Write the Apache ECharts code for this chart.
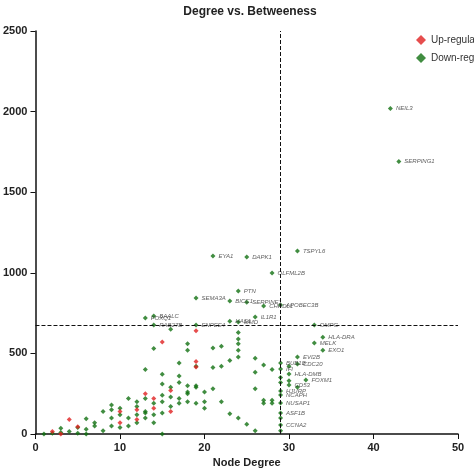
<!DOCTYPE html><html><head><meta charset="utf-8"><script src="https://cdn.jsdelivr.net/npm/echarts@6/dist/echarts.min.js"></script></head><body style="margin:0"><div id="c" style="width:474px;height:474px"></div><script>
const labeled = [["NEIL3",42,2020],["SERPING1",43,1690],["TSPYL6",31,1135],["EYA1",21,1104],["DAPK1",25,1098],["OLFML2B",28,999],["PTN",24,887],["SEMA3A",19,844],["BICC1",23,825],["SERPINE1",25,818],["CHRDL1",27,794],["APOBEC3B",29,800],["HAS1",23,700],["MMD",24,695],["IL1R1",26,726],["ENPEE4",19,676],["OMPG",33,676],["HLA-DRA",34,600],["MELK",33,565],["EXO1",34,520],["EVI2B",31,478],["BUB1B",29,440],["CDC20",31,434],["IFI",29,403],["HLA-DMB",30,372],["FOXM1",32,335],["CD53",30,304],["HJURP",29,267],["NCAPH",29,242],["NUSAP1",29,192],["ASF1B",29,130],["CCNA2",29,56],["FOXQ1",13,720],["BAALC",14,732],["RAB27B",14,676]];
const up = [[2,15],[3,0],[4,90],[5,45],[10,140],[10,70],[12,150],[12,90],[13,250],[14,220],[14,160],[15,570],[16,270],[16,140],[19,640],[19,450],[19,415]];
const down = [[1,0],[2,5],[3,35],[3,10],[4,15],[5,40],[5,5],[6,95],[6,30],[6,0],[7,70],[7,50],[8,140],[8,20],[9,180],[9,150],[9,100],[9,50],[10,160],[10,120],[10,40],[11,220],[11,100],[11,50],[12,200],[12,170],[12,120],[12,70],[13,400],[13,220],[13,140],[13,100],[13,130],[14,530],[14,190],[14,120],[14,70],[15,370],[15,310],[15,240],[15,200],[15,130],[15,0],[16,650],[16,290],[16,230],[16,170],[17,440],[17,360],[17,320],[17,220],[17,190],[18,560],[18,520],[18,250],[18,200],[18,300],[18,260],[19,420],[19,290],[19,190],[19,300],[20,260],[20,200],[20,160],[21,533],[21,412],[21,280],[22,545],[22,420],[22,200],[23,456],[23,125],[24,630],[24,590],[24,560],[24,520],[24,478],[24,100],[26,470],[26,383],[26,280],[27,428],[27,210],[27,190],[28,400],[28,210],[28,190],[29,350],[29,320],[29,100],[29,20],[30,330],[30,420],[31,290],[25,60],[26,20]];
const titleText = "Degree vs. Betweeness";
const c = echarts.init(document.getElementById('c'));
const lab = {show:true,position:'right',formatter:p=>p.data.name||'',fontSize:6,fontStyle:'italic',color:'#333',distance:3};
c.setOption({
 animation:false,
 title:{text:titleText,left:245,textAlign:'center',top:1,textStyle:{fontSize:12,fontWeight:'bold',color:'#222'}},
 legend:{left:411,top:30,orient:'vertical',itemGap:8,itemWidth:10,itemHeight:10,textStyle:{fontSize:10,color:'#333'},data:[{name:'Up-regulated',icon:'diamond'},{name:'Down-regulated',icon:'diamond'}]},
 grid:{left:34,right:16,top:31,bottom:40},
 xAxis:{type:'value',min:0,max:50,interval:10,name:'Node Degree',nameLocation:'middle',nameGap:22,nameTextStyle:{fontWeight:'bold',fontSize:11,color:'#222'},axisLine:{lineStyle:{color:'#111',width:1.5}},axisTick:{lineStyle:{color:'#111'}},axisLabel:{fontWeight:'bold',fontSize:11,color:'#222'},splitLine:{show:false}},
 yAxis:{type:'value',min:0,max:2500,interval:500,axisLine:{show:true,lineStyle:{color:'#111',width:1.5}},axisTick:{show:true,lineStyle:{color:'#111'}},axisLabel:{fontWeight:'bold',fontSize:11,color:'#222',formatter:v=>String(v)},splitLine:{show:false}},
 series:[
  {name:'Down-regulated',type:'scatter',symbol:'diamond',symbolSize:5,itemStyle:{color:'#127012'},data:down.concat(labeled.map(d=>({name:d[0],value:[d[1],d[2]]}))),label:lab,
   markLine:{silent:true,symbol:'none',label:{show:false},lineStyle:{type:'dashed',color:'#111',width:1},data:[{xAxis:29},{yAxis:676}]}},
  {name:'Up-regulated',type:'scatter',symbol:'diamond',symbolSize:5,itemStyle:{color:'#e02020'},data:up}
 ]
});
</script></body></html>
